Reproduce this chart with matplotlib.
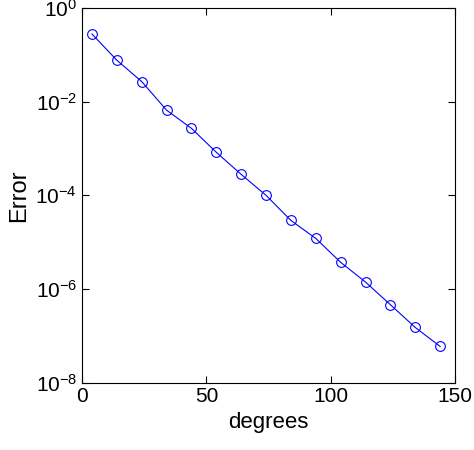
import matplotlib
matplotlib.use("Agg")
import matplotlib.pyplot as plt

degrees = [4, 14, 24, 34, 44, 54, 64, 74, 84, 94, 104, 114, 124, 134, 144]
error = [0.28, 0.077, 0.027, 0.0066, 0.0027, 8.3e-4, 2.8e-4, 1.0e-4, 2.9e-5,
         1.2e-5, 3.7e-6, 1.4e-6, 4.6e-7, 1.5e-7, 5.9e-8]

plt.rcParams['font.family'] = ['Liberation Sans', 'DejaVu Sans']
fig = plt.figure(figsize=(4.74, 4.5), dpi=100)
ax = fig.add_axes([0.173, 0.15, 0.787, 0.832])
ax.semilogy(degrees, error, '-o', color='#0000ff', lw=0.8, mfc='none', ms=7, mew=0.8)
ax.set_xlim(0, 150)
ax.set_ylim(1e-8, 1)
ax.set_xticks([0, 50, 100, 150])
ax.set_yticks([1e0, 1e-2, 1e-4, 1e-6, 1e-8])
ax.minorticks_off()
ax.tick_params(direction='in', labelsize=15, top=True, right=True, length=5)
ax.set_xlabel('degrees', fontsize=16)
ax.set_ylabel('Error', fontsize=17)
fig.savefig('out.png', dpi=100)
